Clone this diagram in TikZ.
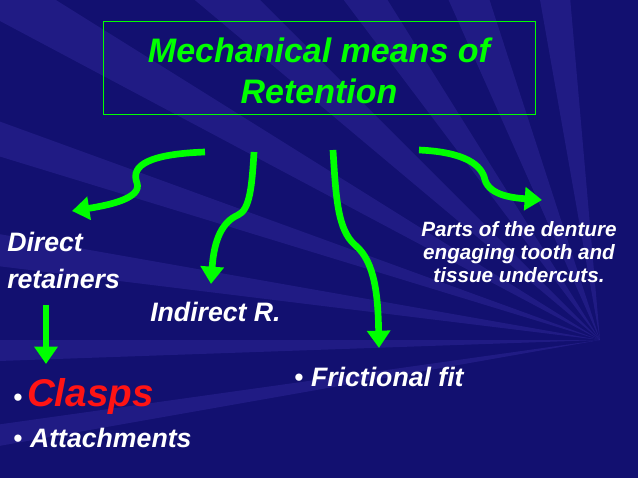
\documentclass[tikz,border=0pt]{standalone}
\usepackage{fontspec}
\setmainfont{Liberation Sans}
\usetikzlibrary{arrows.meta}
\definecolor{bg}{RGB}{18,16,112}
\definecolor{ray}{RGB}{60,50,170}
\definecolor{grn}{RGB}{0,255,0}
\definecolor{rd}{RGB}{255,20,20}
\tikzset{
  garrow/.style={draw=grn,line width=5pt,-{Triangle[length=13pt,width=17pt]}},
  wtext/.style={text=white,font=\bfseries\itshape,inner sep=0pt,anchor=west},
}
\begin{document}
\begin{tikzpicture}[x=0.75pt,y=-0.75pt]
\useasboundingbox (0,0) rectangle (638,478);
\fill[bg] (0,0) rectangle (638,478);
\begin{scope}
\clip (0,0) rectangle (638,478);
\foreach \a/\b in {-95/-100,-108/-114,-122/-127,-135/-140,-148/-152,-160/-163,-170/-173,-180/-182,-188/-190}{
  \fill[ray,opacity=0.35] (600,340) -- ++(\a:1200) arc[start angle=\a,end angle=\b,radius=1200] -- cycle;
}
\end{scope}
\node[draw=grn,line width=0.6pt,minimum width=324pt,minimum height=70pt] (title) at (319,68) {};
\node[text=grn,font=\fontsize{25.5}{31}\selectfont\bfseries\itshape,align=center] (tt) at (319,71) {Mechanical means of\\Retention};
\coordinate (s1) at (205,152); \coordinate (e1) at (72,211);
\coordinate (s2) at (254,152); \coordinate (e2) at (211,284);
\coordinate (s3) at (333,150); \coordinate (e3) at (379,348);
\coordinate (s4) at (419,150); \coordinate (e4) at (542,200);
\coordinate (s5) at (46,305); \coordinate (e5) at (46,364);
\draw[garrow] (s1) .. controls (150,154) and (130,165) .. (137,183) .. controls (142,198) and (110,205) .. (e1);
\draw[garrow] (s2) .. controls (252,185) and (250,210) .. (238,215) .. controls (222,222) and (214,240) .. (e2);
\draw[garrow] (s3) .. controls (336,200) and (338,230) .. (355,245) .. controls (376,262) and (378,300) .. (e3);
\draw[garrow] (s4) .. controls (465,152) and (482,165) .. (485,180) .. controls (490,196) and (515,198) .. (e4);
\draw[garrow] (s5) -- (e5);
\node[wtext,font=\fontsize{20}{28}\selectfont\bfseries\itshape,align=left,anchor=north west] (dr) at (7,232) {Direct\\retainers};
\node[wtext,font=\fontsize{20}{20}\selectfont\bfseries\itshape] (ir) at (150,312) {Indirect R.};
\node[text=white,font=\fontsize{15.5}{17}\selectfont\bfseries\itshape,align=center] (parts) at (519,252) {Parts of the denture\\engaging tooth and\\tissue undercuts.};
\node[wtext,font=\fontsize{20}{20}\selectfont\bfseries\itshape] (ff) at (294,377) {{\upshape\mdseries •} Frictional fit};
\node[wtext,text=rd,font=\fontsize{29}{30}\selectfont\bfseries\itshape] (cl) at (13,396) {{\color{white}\upshape\mdseries\fontsize{20}{20}\selectfont•\,}Clasps};
\node[wtext,font=\fontsize{20}{20}\selectfont\bfseries\itshape] (at) at (13,438) {{\upshape\mdseries •} Attachments};
\end{tikzpicture}
\end{document}
